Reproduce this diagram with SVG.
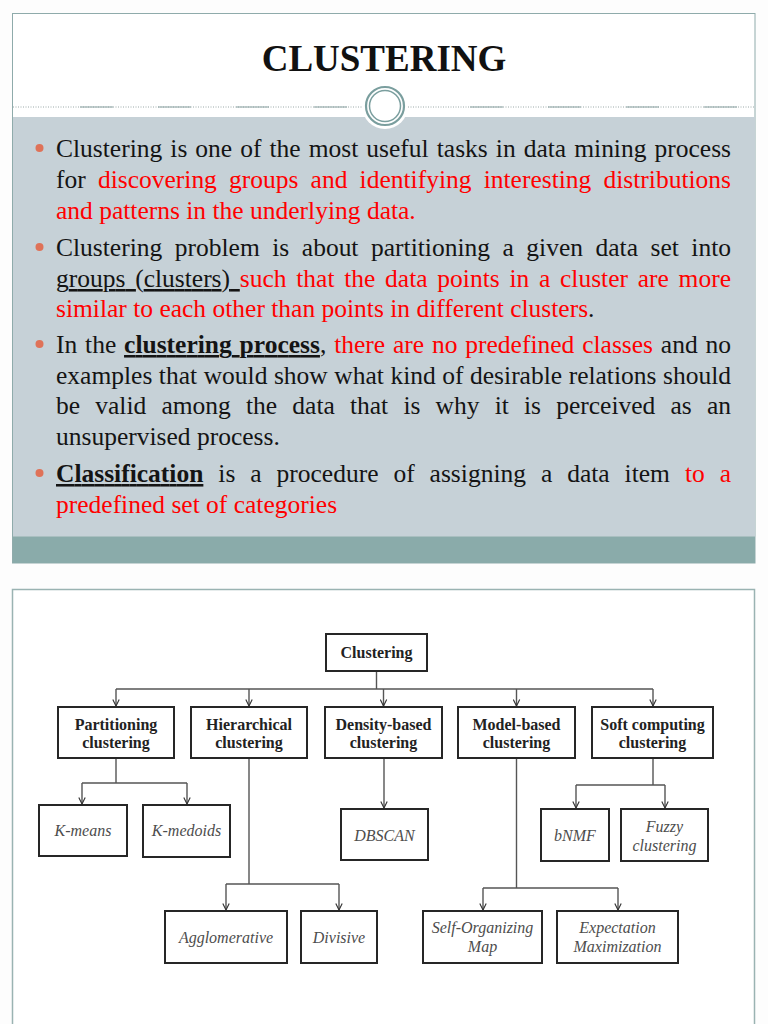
<svg xmlns="http://www.w3.org/2000/svg" width="768" height="1024" viewBox="0 0 768 1024">
<style>
.body{font-family:"Liberation Serif","Times New Roman",serif;font-size:25.5px;fill:#141414}
.red{fill:#ff0000}
.b{font-weight:bold}
.u{text-decoration:underline}
.bul{fill:#df7258}
.box{fill:#ffffff;stroke:#262626;stroke-width:2}
.t1{font-family:"Liberation Serif","Times New Roman",serif;font-size:16px;font-weight:bold;fill:#222;text-anchor:middle}
.t2{font-family:"Liberation Serif","Times New Roman",serif;font-size:16px;font-style:italic;fill:#4d4d4d;text-anchor:middle}
.con{fill:none;stroke:#555;stroke-width:1.4}
.arr{marker-end:url(#arr)}
</style>
<defs>
<marker id="arr" viewBox="0 0 10 10" refX="9" refY="5" markerWidth="8" markerHeight="8" markerUnits="userSpaceOnUse" orient="auto">
<path d="M1,1 L9,5 L1,9" fill="none" stroke="#333" stroke-width="1.4"/>
</marker>
</defs>
<rect x="0" y="0" width="768" height="1024" fill="#fdfdfd"/>
<!-- top slide -->
<rect x="12.5" y="13.5" width="742.5" height="549.5" fill="#ffffff" stroke="#8fabab" stroke-width="1"/>
<rect x="13" y="117" width="742" height="419" fill="#c6d1d7"/>
<rect x="13" y="536" width="742" height="27" fill="#8aabaa"/>
<line x1="13" y1="536.5" x2="755" y2="536.5" stroke="#a9bfc0" stroke-width="1"/>
<line x1="13" y1="107" x2="362" y2="107" stroke="#9aa8a8" stroke-width="1" stroke-dasharray="1 1.5"/>
<line x1="408" y1="107" x2="755" y2="107" stroke="#9aa8a8" stroke-width="1" stroke-dasharray="1 1.5"/>
<line x1="80" y1="107" x2="360" y2="107" stroke="#8aa2a2" stroke-width="1.2" stroke-dasharray="33 45"/>
<line x1="470" y1="107" x2="750" y2="107" stroke="#8aa2a2" stroke-width="1.2" stroke-dasharray="33 45"/>
<circle cx="385" cy="106" r="23" fill="#ffffff"/>
<circle cx="385" cy="106" r="19" fill="#ffffff" stroke="#7a9e9e" stroke-width="2.2"/>
<circle cx="385" cy="106" r="15.5" fill="#ffffff" stroke="#7a9e9e" stroke-width="1.5"/>
<text x="384" y="71" text-anchor="middle" font-family="Liberation Serif, Times New Roman, serif" font-size="37" font-weight="bold" fill="#111">CLUSTERING</text>
<!-- bullets -->
<circle class="bul" cx="39.5" cy="148" r="4"/>
<circle class="bul" cx="39.5" cy="247" r="4"/>
<circle class="bul" cx="39.5" cy="344" r="4"/>
<circle class="bul" cx="39.5" cy="473" r="4"/>
<text class="body" x="56" y="157" word-spacing="1.67" textLength="675" lengthAdjust="spacing">Clustering is one of the most useful tasks in data mining process</text>
<text class="body" x="56" y="188" word-spacing="5.8" textLength="675" lengthAdjust="spacing">for <tspan class="red">discovering groups and identifying interesting distributions</tspan></text>
<text class="body red" x="56" y="219">and patterns in the underlying data.</text>
<text class="body" x="56" y="256" word-spacing="6.13" textLength="675" lengthAdjust="spacing">Clustering problem is about partitioning a given data set into</text>
<text class="body" x="56" y="287" word-spacing="3.35" textLength="675" lengthAdjust="spacing"><tspan class="u">groups (clusters) </tspan><tspan class="red">such that the data points in a cluster are more</tspan></text>
<text class="body" x="56" y="317"><tspan class="red">similar to each other than points in different clusters</tspan>.</text>
<text class="body" x="56" y="353" word-spacing="1.43" textLength="675" lengthAdjust="spacing">In the <tspan class="b u">clustering process</tspan>, <tspan class="red">there are no predefined classes</tspan> and no</text>
<text class="body" x="56" y="384" word-spacing="0.16" textLength="675" lengthAdjust="spacing">examples that would show what kind of desirable relations should</text>
<text class="body" x="56" y="414" word-spacing="8.8" textLength="675" lengthAdjust="spacing">be valid among the data that is why it is perceived as an</text>
<text class="body" x="56" y="445">unsupervised process.</text>
<text class="body" x="56" y="482" word-spacing="8.57" textLength="675" lengthAdjust="spacing"><tspan class="b u">Classification</tspan> is a procedure of assigning a data item <tspan class="red">to a</tspan></text>
<text class="body red" x="56" y="513">predefined set of categories</text>
<!-- bottom slide -->
<rect x="12.5" y="589.5" width="742" height="460" fill="#ffffff" stroke="#9ab3b2" stroke-width="1.5"/>
<!-- connectors -->
<g id="connectors">
<path class="con" d="M376.5,671 V689 M116,689 H653"/>
<path class="con arr" d="M116,689 V706"/>
<path class="con arr" d="M249,689 V706"/>
<path class="con arr" d="M383.5,689 V706"/>
<path class="con arr" d="M516.5,689 V706"/>
<path class="con arr" d="M653,689 V706"/>
<path class="con" d="M116,758 V783 M82,783 H187"/>
<path class="con arr" d="M82,783 V804"/>
<path class="con arr" d="M187,783 V804"/>
<path class="con" d="M249,758 V884 M226,884 H339"/>
<path class="con arr" d="M226,884 V910"/>
<path class="con arr" d="M339,884 V910"/>
<path class="con arr" d="M384,758 V808"/>
<path class="con" d="M516.5,758 V888 M483,888 H618"/>
<path class="con arr" d="M483,888 V910"/>
<path class="con arr" d="M618,888 V910"/>
<path class="con" d="M653,758 V785 M576,785 H665"/>
<path class="con arr" d="M576,785 V808"/>
<path class="con arr" d="M665,785 V808"/>
</g>
<!-- nodes -->
<g id="n-root"><rect class="box" x="326" y="634" width="101" height="37"/><text class="t1" x="376.5" y="658">Clustering</text></g>
<g id="n-part"><rect class="box" x="58" y="707" width="116" height="51"/><text class="t1" x="116" y="730">Partitioning</text><text class="t1" x="116" y="748">clustering</text></g>
<g id="n-hier"><rect class="box" x="191" y="707" width="116" height="51"/><text class="t1" x="249" y="730">Hierarchical</text><text class="t1" x="249" y="748">clustering</text></g>
<g id="n-dens"><rect class="box" x="325" y="707" width="117" height="51"/><text class="t1" x="383.5" y="730">Density-based</text><text class="t1" x="383.5" y="748">clustering</text></g>
<g id="n-model"><rect class="box" x="458" y="707" width="117" height="51"/><text class="t1" x="516.5" y="730">Model-based</text><text class="t1" x="516.5" y="748">clustering</text></g>
<g id="n-soft"><rect class="box" x="592" y="707" width="121" height="51"/><text class="t1" x="652.5" y="730">Soft computing</text><text class="t1" x="652.5" y="748">clustering</text></g>
<g id="n-kmeans"><rect class="box" x="39" y="805" width="88" height="51"/><text class="t2" x="83" y="836">K-means</text></g>
<g id="n-kmedoids"><rect class="box" x="143" y="805" width="87" height="52"/><text class="t2" x="186.5" y="836">K-medoids</text></g>
<g id="n-agglo"><rect class="box" x="165" y="911" width="122" height="52"/><text class="t2" x="226" y="943">Agglomerative</text></g>
<g id="n-divisive"><rect class="box" x="301" y="911" width="76" height="52"/><text class="t2" x="339" y="943">Divisive</text></g>
<g id="n-dbscan"><rect class="box" x="341" y="809" width="87" height="51"/><text class="t2" x="384.5" y="841">DBSCAN</text></g>
<g id="n-bnmf"><rect class="box" x="541" y="809" width="68" height="52"/><text class="t2" x="575" y="841">bNMF</text></g>
<g id="n-fuzzy"><rect class="box" x="621" y="809" width="87" height="52"/><text class="t2" x="664.5" y="832">Fuzzy</text><text class="t2" x="664.5" y="851">clustering</text></g>
<g id="n-som"><rect class="box" x="423" y="911" width="119" height="52"/><text class="t2" x="482.5" y="933">Self-Organizing</text><text class="t2" x="482.5" y="952">Map</text></g>
<g id="n-em"><rect class="box" x="557" y="911" width="121" height="52"/><text class="t2" x="617.5" y="933">Expectation</text><text class="t2" x="617.5" y="952">Maximization</text></g>
</svg>
